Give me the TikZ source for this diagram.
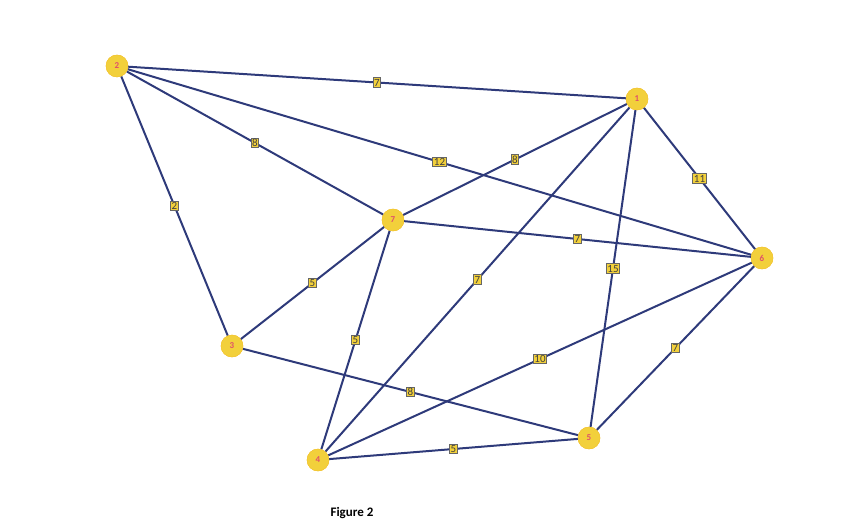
\documentclass[tikz,border=0pt]{standalone}
\usepackage{fontspec}
\setmainfont{Carlito}
\definecolor{nodey}{HTML}{F2D03B}
\definecolor{edgeb}{HTML}{2E3A7A}
\definecolor{numr}{HTML}{E0506A}
\begin{document}
\begin{tikzpicture}[x=1pt,y=-1pt,
  vtx/.style={circle,fill=nodey,draw=nodey!85!orange,minimum size=22pt,inner sep=0pt,text=numr,font=\bfseries\fontsize{9}{9}\selectfont},
  edge/.style={draw=edgeb,line width=2pt},
  wlab/.style={midway,fill=nodey,draw=gray!80!black,line width=1pt,inner sep=1.2pt,font=\fontsize{11}{11}\selectfont,text=black!75}]
\useasboundingbox (0,0) rectangle (845,529);
\node[vtx] (n2) at (117,66) {2};
\node[vtx] (n1) at (637,99) {1};
\node[vtx] (n7) at (393,220) {7};
\node[vtx] (n6) at (762,258) {6};
\node[vtx] (n3) at (232,346) {3};
\node[vtx] (n5) at (589,438) {5};
\node[vtx] (n4) at (318,460) {4};
\foreach \a/\b/\w in {n2/n1/7,n2/n7/8,n2/n6/12,n2/n3/2,n1/n7/8,n1/n4/7,n1/n5/15,n1/n6/11,n7/n6/7,n7/n3/5,n7/n4/5,n3/n5/8,n6/n4/10,n6/n5/7,n4/n5/5}
  \path[edge] (\a) -- (\b) node[wlab] {\w};
\foreach \n/\t in {n2/2,n1/1,n7/7,n6/6,n3/3,n5/5,n4/4}
  \node[vtx] at (\n) {\t};
\node[font=\bfseries\fontsize{13}{13}\selectfont] (cap) at (352,513) {Figure 2};
\end{tikzpicture}
\end{document}
